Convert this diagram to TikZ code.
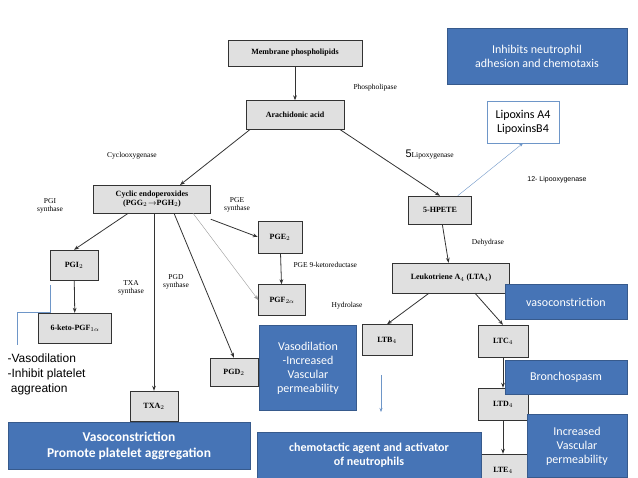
\documentclass[tikz,border=0pt]{standalone}
\usepackage{fontspec}
\setmainfont{Liberation Serif}
\newfontfamily\calib{Carlito}
\newfontfamily\arial{Liberation Sans}
\usetikzlibrary{arrows.meta}
\definecolor{bluebox}{RGB}{70,116,182}
\definecolor{blueedge}{RGB}{55,90,140}
\definecolor{thinblue}{RGB}{110,150,200}
\begin{document}
\begin{tikzpicture}[x=1pt,y=-1pt,
  gbox/.style={draw=black!80,fill=black!12,font=\bfseries\fontsize{8}{9.5}\selectfont,inner sep=0pt,align=center},
  bbox/.style={draw=blueedge,fill=bluebox,text=white,font=\calib\fontsize{12}{14}\selectfont,inner sep=0pt,align=center},
  lab/.style={font=\fontsize{7.5}{8.5}\selectfont,align=center},
  arr/.style={-{Stealth[length=5pt]},thick,black!80}]
\useasboundingbox (0,0) rectangle (638,478);
\node[gbox,minimum width=134,minimum height=26] (mp) at (295,53) {Membrane phospholipids};
\node[gbox,minimum width=98,minimum height=29] (aa) at (295,115) {Arachidonic acid};
\node[gbox,minimum width=117,minimum height=28] (ce) at (152,199) {Cyclic endoperoxides\\(PGG$_2\!\rightarrow$PGH$_2$)};
\node[gbox,minimum width=63,minimum height=28] (hp) at (440,210) {5-HPETE};
\node[gbox,minimum width=48,minimum height=30] (pgi) at (74,265) {PGI$_2$};
\node[gbox,minimum width=73,minimum height=30] (kpg) at (75,328) {6-keto-PGF$_{1\alpha}$};
\node[gbox,minimum width=44,minimum height=32] (pge) at (280,237) {PGE$_2$};
\node[gbox,minimum width=47,minimum height=31] (pgf) at (282,300) {PGF$_{2\alpha}$};
\node[gbox,minimum width=48,minimum height=28] (pgd) at (234,372) {PGD$_2$};
\node[gbox,minimum width=48,minimum height=30] (txa) at (154,406) {TXA$_2$};
\node[gbox,minimum width=117,minimum height=30] (lta) at (451,278) {Leukotriene A$_4$ (LTA$_4$)};
\node[gbox,minimum width=50,minimum height=31] (ltb) at (387,340) {LTB$_4$};
\node[gbox,minimum width=50,minimum height=32] (ltc) at (503,341) {LTC$_4$};
\node[gbox,minimum width=50,minimum height=32] (ltd) at (503,404) {LTD$_4$};
\node[gbox,minimum width=50,minimum height=32] (lte) at (503,470) {LTE$_4$};

\node[lab,anchor=west] (t1) at (350,88) {Phospholipase};
\node[lab] (t2) at (132,156) {Cyclooxygenase};
\node[lab,anchor=west] (t3) at (402,155) {{\arial\fontsize{11}{11}\selectfont 5}Lipoxygenase};
\node[lab,font=\arial\fontsize{7}{8}\selectfont] (t4) at (557,180) {12- Lipooxygenase};
\node[lab] (t5) at (50,206) {PGI\\synthase};
\node[lab] (t6) at (237,205) {PGE\\synthase};
\node[lab,anchor=west] (t7) at (290,265) {PGE 9-ketoreductase};
\node[lab] (t8) at (131,288) {TXA\\synthase};
\node[lab] (t9) at (176,282) {PGD\\synthase};
\node[lab] (t10) at (488,243) {Dehydrase};
\node[lab] (t11) at (347,306) {Hydrolase};

\node[bbox,minimum width=180,minimum height=56] (inh) at (537,56) {Inhibits neutrophil\\adhesion and chemotaxis};
\node[draw=thinblue,fill=white,font=\calib\fontsize{12}{14}\selectfont,align=center,minimum width=72,minimum height=42,inner sep=0pt] (lip) at (523,122) {Lipoxins A4\\LipoxinsB4};
\node[bbox,minimum width=97,minimum height=85] (vd) at (308,368) {Vasodilation\\-Increased\\Vascular\\permeability};
\node[font=\arial\fontsize{12}{15}\selectfont,align=left,anchor=north west] (vdl) at (4,350) {-Vasodilation\\-Inhibit platelet\\\ aggreation};
\node[bbox,minimum width=242,minimum height=47,font=\calib\bfseries\fontsize{13.5}{16}\selectfont] (vc) at (129,446) {Vasoconstriction\\Promote platelet aggregation};
\node[bbox,minimum width=122,minimum height=35] (vco) at (566,302) {vasoconstriction};
\node[bbox,minimum width=122,minimum height=34] (bro) at (566,377) {Bronchospasm};
\node[bbox,minimum width=224,minimum height=46,font=\calib\bfseries\fontsize{12}{14}\selectfont] (che) at (369,455) {chemotactic agent and activator\\of neutrophils};
\node[bbox,minimum width=100,minimum height=63] (ivp) at (577,446) {Increased\\Vascular\\permeability};

\draw[arr] (mp) -- (aa);
\draw[arr] (aa.south west) ++(4,0) -- (180,185);
\draw[arr] (aa.south east) ++(-4,0) -- (hp.north);
\draw[arr] (ce.south west) ++(35,0) -- (pgi.north);
\draw[arr] (ce.south) ++(2,0) -- (txa.north);
\draw[arr] (ce.south) ++(22,0) -- (pgd.north);
\draw[arr,black!40,thin] (ce.south) ++(41,0) -- (pgf.west);
\draw[arr] (ce.south east) ++(0,6) -- (pge.west);
\draw[arr] (pge) -- (pgf);
\draw[arr] (pgi) -- (kpg);
\draw[arr] (hp) -- (lta);
\draw[arr] (lta.south) ++(-22,0) -- (ltb.north);
\draw[arr] (lta.south) ++(24,0) -- (ltc.north);
\draw[arr] (ltc) -- (ltd);
\draw[arr] (ltd) -- (lte);
\draw[-{Stealth[length=4pt]},thinblue] (hp.north east) ++(-14,0) -- (lip.south);
\draw[-{Stealth[length=4pt]},thinblue] (381,375) -- (381,412);
\coordinate (b1) at (50,285);
\coordinate (b2) at (17,312);
\coordinate (b3) at (17,345);
\draw[thinblue] (b1) |- (b2) -- (b3);
\end{tikzpicture}
\end{document}
